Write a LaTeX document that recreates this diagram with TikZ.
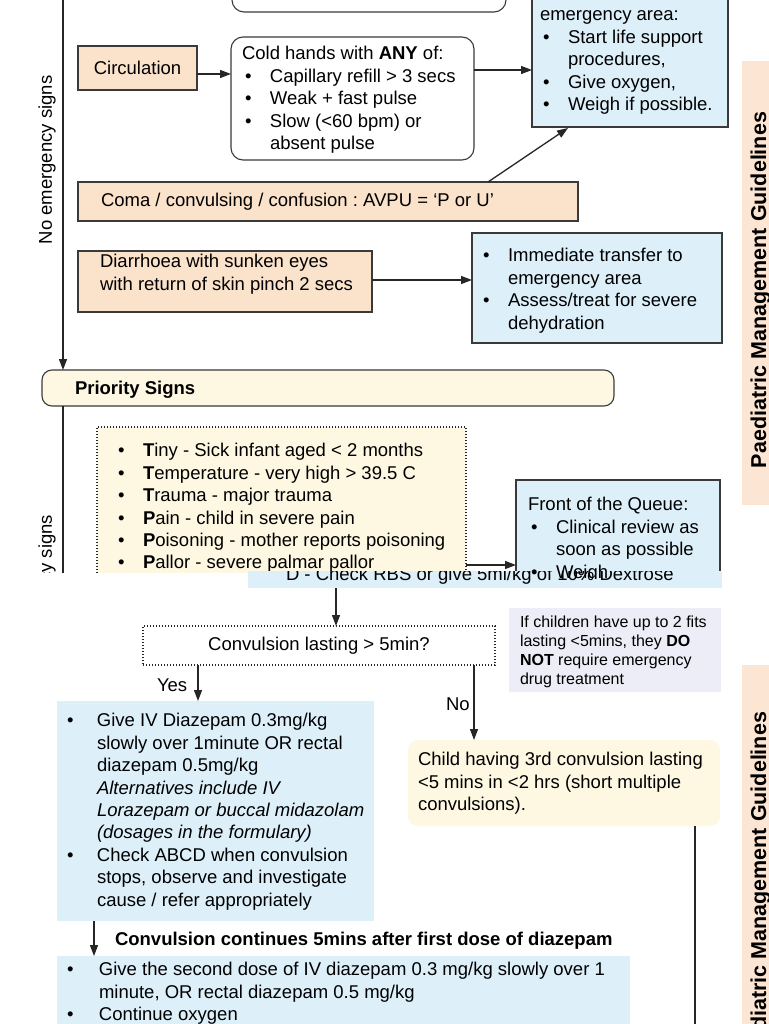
\documentclass[tikz,border=0pt]{standalone}
\usepackage{fontspec}
\setmainfont{Liberation Sans}
\usetikzlibrary{arrows.meta,calc}
\definecolor{peach}{HTML}{FBE2CB}
\definecolor{lblue}{HTML}{DDF0FA}
\definecolor{cream}{HTML}{FEF8E2}
\definecolor{lav}{HTML}{EDEDF7}
\definecolor{tabc}{HTML}{FCE5D3}
\definecolor{edge}{HTML}{3A3A3A}
\newcommand\fs{\fontsize{18.5}{22.4}\selectfont}
\newcommand\bitem[2][25pt]{\makebox[#1][l]{•}#2}
\newcommand\bcont[2][25pt]{\hspace*{#1}#2}
\frenchspacing
\begin{document}
\begin{tikzpicture}[x=1pt,y=-1pt,
 every node/.style={inner sep=0pt,outer sep=0pt,font=\fs,text=black},
 arr/.style={draw=black!85,line width=1.3pt,-{Triangle[length=11pt,width=8pt]}},
 ln/.style={draw=black!85,line width=1.3pt},
 pbox/.style={draw=edge,line width=1.1pt,fill=peach,anchor=north west},
 bbox/.style={draw=edge,line width=1.1pt,fill=lblue,anchor=north west},
 wbox/.style={draw=edge,line width=1.1pt,fill=white,rounded corners=12pt,anchor=north west},
 sbox/.style={fill=lblue,anchor=north west},
 tl/.style={anchor=north west,align=left},
 side/.style={rotate=90,font=\fontsize{18.5}{22}\selectfont},
 tabbox/.style={fill=tabc,anchor=north west},
 tabtxt/.style={rotate=90,anchor=base,font=\fontsize{21.5}{24}\selectfont\bfseries},
 dotbox/.style={draw=black!85,line width=1.4pt,dash pattern=on 1.3pt off 1.7pt,anchor=north west},
]
\useasboundingbox (0,0) rectangle (768,1024);
\fill[white] (0,0) rectangle (768,1024);
\coordinate (y74) at (0,74);
\coordinate (y70) at (0,70);
\coordinate (y280) at (0,280);
\coordinate (y565) at (0,565);
% ---------------- top page ----------------
\begin{scope}
\clip (-10,-10) rectangle (800,572);
\node[wbox,minimum width=274pt,minimum height=42pt] (air) at (232,-30) {};
\node[bbox,minimum width=196pt,minimum height=140pt] (em) at (532,-13) {};
\node[tl] (emt) at (543,5.3) {\hspace*{-3pt}\strut emergency area:\\ \bitem{Start life support}\\ \bcont{procedures,}\\ \bitem{Give oxygen,}\\ \bitem{Weigh if possible.}};
\node[pbox,minimum width=119pt,minimum height=44pt] (circ) at (78,46) {Circulation};
\node[wbox,minimum width=243pt,minimum height=123pt] (cold) at (231,37) {};
\node[tl] (coldt) at (245,44.3) {\hspace*{-3pt}\strut Cold hands with \textbf{ANY} of:\\ \bitem{Capillary refill > 3 secs}\\ \bitem{Weak + fast pulse}\\ \bitem{Slow (<60 bpm) or}\\ \bcont{absent pulse}};
\draw[arr] (circ.east |- y74) -- (cold.west |- y74);
\draw[arr] (cold.east |- y70) -- (em.west |- y70);
\node[pbox,minimum width=500pt,minimum height=39pt] (coma) at (78,182) {};
\node[anchor=base west] (comat) at (101,207) {Coma / convulsing / confusion : AVPU = ‘P or U’};
\coordinate (c1) at (488,182);
\coordinate (c2) at (568,128);
\draw[arr] (c1) -- (c2);
\node[pbox,minimum width=294pt,minimum height=61pt] (diar) at (78,251) {};
\node[tl] (diart) at (100,252.3) {\strut Diarrhoea with sunken eyes\\ with return of skin pinch 2 secs};
\node[bbox,minimum width=250pt,minimum height=110pt] (dehy) at (472,233) {};
\node[tl] (dehyt) at (483,246.3) {\bitem{\strut Immediate transfer to}\\ \bcont{emergency area}\\ \bitem{Assess/treat for severe}\\ \bcont{dehydration}};
\draw[arr] (diar.east |- y280) -- (dehy.west |- y280);
\node[draw=edge,line width=1.1pt,fill=cream,rounded corners=10pt,anchor=north west,minimum width=572pt,minimum height=36pt] (prio) at (42,370) {};
\node[anchor=base west,font=\fs\bfseries] (priot) at (75,394) {Priority Signs};
\coordinate (l0) at (63,-10);
\coordinate (l1) at (63,600);
\draw[arr] (l0) -- (prio.north -| l0);
\draw[ln] (prio.south -| l0) -- (l1);
\node[side] (nes) at (47,160) {No emergency signs};
\node[side,anchor=east] (nes2) at (47,515) {No emergency signs};
\node[dotbox,fill=cream,minimum width=369pt,minimum height=200pt] (pl) at (97,427) {};
\node[tl] (plt) at (118,441.3) {\bitem{\strut\textbf{T}iny - Sick infant aged < 2 months}\\ \bitem{\textbf{T}emperature - very high > 39.5 C}\\ \bitem{\textbf{T}rauma - major trauma}\\ \bitem{\textbf{P}ain - child in severe pain}\\ \bitem{\textbf{P}oisoning - mother reports poisoning}\\ \bitem{\textbf{P}allor - severe palmar pallor}};
\node[bbox,minimum width=204pt,minimum height=150pt] (front) at (516,480) {};
\draw[arr] (pl.east |- y565) -- (front.west |- y565);
\node[tabbox,minimum width=30pt,minimum height=444pt] (tab1) at (742,61) {};
\node[tabtxt] (tab1t) at (766,290) {Paediatric Management Guidelines};
\end{scope}
% ---------------- bottom page ----------------
\begin{scope}
\clip (-10,571) rectangle (800,1040);
\node[sbox,minimum width=474pt,minimum height=40pt] (strip) at (248,548) {};
\node[anchor=base west] (stript) at (286,580) {D - Check RBS or give 5ml/kg of 10\% Dextrose};
\node[dotbox,fill=white,minimum width=352pt,minimum height=39pt] (conv) at (143,626) {Convulsion lasting > 5min?};
\coordinate (x336) at (336,0);
\draw[arr] (strip.south -| x336) -- (conv.north -| x336);
\node[anchor=north west,fill=lav,minimum width=212pt,minimum height=84pt] (note) at (509,608) {};
\node[tl,font=\fontsize{16}{19.3}\selectfont] (notet) at (520,613.5) {\strut If children have up to 2 fits\\ lasting <5mins, they \textbf{DO}\\ \textbf{NOT} require emergency\\ drug treatment};
\node[sbox,minimum width=317pt,minimum height=220pt] (dia) at (57,701) {};
\node[tl] (diat) at (67,711.3) {\bitem[30pt]{\strut Give IV Diazepam 0.3mg/kg}\\ \bcont[30pt]{slowly over 1minute OR rectal}\\ \bcont[30pt]{diazepam 0.5mg/kg}\\ \bcont[30pt]{\textit{Alternatives include IV}}\\ \bcont[30pt]{\textit{Lorazepam or buccal midazolam}}\\ \bcont[30pt]{\textit{(dosages in the formulary)}}\\ \bitem[30pt]{Check ABCD when convulsion}\\ \bcont[30pt]{stops, observe and investigate}\\ \bcont[30pt]{cause / refer appropriately}};
\coordinate (x198) at (198,0);
\draw[arr] (conv.south -| x198) -- (dia.north -| x198);
\node[anchor=base west] (yes) at (157,691) {Yes};
\node[fill=cream,rounded corners=10pt,anchor=north west,minimum width=312pt,minimum height=86pt] (child) at (408,740) {};
\coordinate (x474) at (474,0);
\draw[arr] (conv.south -| x474) -- (child.north -| x474);
\node[anchor=base west] (no) at (446,710) {No};
\node[tl] (childt) at (418,750.3) {\strut Child having 3rd convulsion lasting\\ <5 mins in <2 hrs (short multiple\\ convulsions).};
\coordinate (x695) at (695,0);
\coordinate (bend) at (695,1040);
\draw[ln] (child.south -| x695) -- (bend);
\node[sbox,minimum width=573pt,minimum height=90pt] (dose2) at (57,956) {};
\coordinate (x94) at (94,0);
\draw[arr] (dia.south -| x94) -- (dose2.north -| x94);
\node[anchor=base west,font=\fs\bfseries] (cont) at (115,945) {Convulsion continues 5mins after first dose of diazepam};
\node[tl] (dose2t) at (67,960.3) {\bitem[32pt]{\strut Give the second dose of IV diazepam 0.3 mg/kg slowly over 1}\\ \bcont[32pt]{minute, OR rectal diazepam 0.5 mg/kg}\\ \bitem[32pt]{Continue oxygen}};
\node[tabbox,minimum width=30pt,minimum height=400pt] (tab2) at (742,665) {};
\node[tabtxt] (tab2t) at (766,890) {Paediatric Management Guidelines};
\end{scope}
% ---------------- top page text lying over the seam ----------------
\begin{scope}
\clip (-10,-10) rectangle (800,578);
\node[tl] (frontt) at (531,495.3) {\hspace*{-3pt}\strut Front of the Queue:\\ \bitem{Clinical review as}\\ \bcont{soon as possible}\\ \bitem{Weigh}};
\end{scope}
\end{tikzpicture}
\end{document}
